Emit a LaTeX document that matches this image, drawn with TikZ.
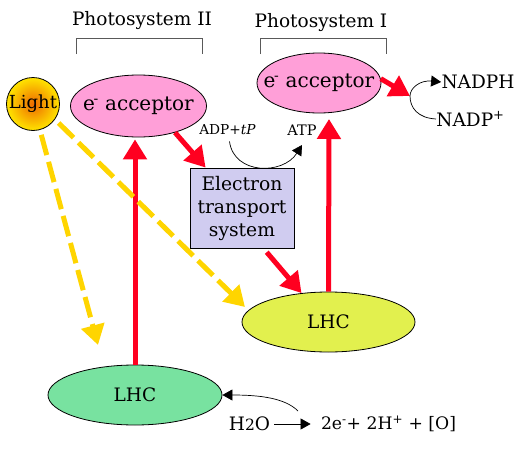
\documentclass[tikz,border=0pt]{standalone}
\usepackage{fontspec}
\setmainfont{DejaVu Serif}
\usepackage{xcolor}
\usetikzlibrary{shapes,arrows.meta,positioning,calc}
\definecolor{accpink}{HTML}{FF9FD8}
\definecolor{lhcgreen}{HTML}{78E2A0}
\definecolor{lhclime}{HTML}{E2F04E}
\definecolor{etsblue}{HTML}{D0CCF0}
\definecolor{redarrow}{HTML}{FF0020}
\definecolor{lightgold}{HTML}{FFD500}
\definecolor{suncore}{HTML}{EE6A00}
\definecolor{sunedge}{HTML}{FFE400}
\newcommand{\acclabel}{\makebox[0pt][c]{e\kern-1.5pt\textsuperscript{-} acceptor}}

\begin{document}
\begin{tikzpicture}[x=1pt, y=-1pt, line width=0.8pt,
		txt/.style={inner sep=0pt, font=\fontsize{#1}{#1}\selectfont},
		txt/.default=18.5,
		oval/.style={ellipse, draw, inner sep=0pt},
		accept/.style={oval, fill=accpink, font=\fontsize{20}{20}\selectfont},
		lhcoval/.style={oval, minimum height=60pt, font=\fontsize{18.5}{18.5}\selectfont},
		redline/.style={-{Triangle[length=20pt,width=23pt]}, draw=redarrow, line width=5pt},
		lightline/.style={-{Triangle[length=20pt,width=23pt]}, draw=lightgold, line width=5pt, dash pattern=on 21pt off 7pt},
		thinline/.style={-{Triangle[length=10pt,width=11pt]}, line width=0.7pt},
		bracket/.style={draw=black!65, line width=0.8pt}]

		\useasboundingbox (0,0) rectangle (520,458);

		% photosystems
		\node [accept, minimum width=136pt, minimum height=62pt] (accii) at (138.5,106) {\acclabel};
		\node [accept, minimum width=124pt, minimum height=60pt] (acci) at (319,83) {\acclabel};
		\node [txt] (psii) at (142,21) {Photosystem II};
		\node [txt] (psi) at (321,23) {Photosystem I};
		\draw [bracket] (76.5,54) |- (202,38) -- (202,54);
		\draw [bracket] (260,54) |- (386,38) -- (386,54);

		% light and the two LHC
		\node [circle, draw, minimum size=53pt, inner sep=0pt, inner color=suncore, outer color=sunedge, font=\fontsize{18}{18}\selectfont] (light) at (33,104) {\makebox[0pt][c]{Light}};
		\node [lhcoval, fill=lhcgreen, minimum width=174pt] (lhcii) at (135,395) {LHC};
		\node [lhcoval, fill=lhclime, minimum width=173pt] (lhci) at (328.5,322) {LHC};

		\node [rectangle, draw, fill=etsblue, minimum width=104pt, minimum height=80pt, inner sep=0pt, align=center, font=\fontsize{18.7}{23}\selectfont] (ets) at (242,208) {Electron\\transport\\system};

		% small labels
		\node [txt=13.7] (adp) at (227.5,130) {ADP+\textit{tP}};
		\node [txt=14.5] (atp) at (302,130) {ATP};
		\node [txt] (nadph) at (478,82) {NADPH};
		\node [txt, anchor=west] (nadpplus) at (436,119) {NADP\textsuperscript{+}};
		\node [txt] (water) at (249.5,424) {H{\fontsize{15.5}{15.5}\selectfont 2}O};
		\node [txt=17.2] (split) at (388.5,424) {2e\textsuperscript{-}+ 2H\textsuperscript{+} + [O]};

		\coordinate (nadpturn) at (410,96);
		\coordinate (watertop) at (298,411);
		\coordinate (lightend) at (98,345);
		\coordinate (lightendb) at (245,307);

		% red arrows
		\draw [redline, shorten >=2pt] (lhcii.north) -- (lhcii.north |- accii.south);
		\draw [redline] (lhci.north) -- (329,119);
		\draw [redline] (accii.-36) -- (ets.132);
		\draw [redline, shorten <=5pt] (ets.-62) -- (lhci.133);
		\draw [redline] (acci.4) -- (nadpturn);

		% yellow arrows
		\draw [lightline, shorten <=5pt] (light.-75) -- (lightend);
		\draw [lightline, shorten <=5pt] (light.-35) -- (lightendb);

		% thin curves
		\draw [thinline] (adp.south) ++(2,6) .. controls (234,175) and (283,175) .. (atp.south |- 0,145);
		\draw [line width=0.7pt] (nadpplus.west) .. controls (418,118) and (410,108) .. (nadpturn);
		\draw [thinline] (nadpturn) .. controls (410,88) and (420,80) .. (nadph.west);
		\draw [thinline] (watertop) .. controls (285,398) and (260,395) .. (lhcii.east);
		\draw [thinline, shorten <=4pt, shorten >=10pt] (water.east) -- (split.west);

	\end{tikzpicture}
\end{document}
